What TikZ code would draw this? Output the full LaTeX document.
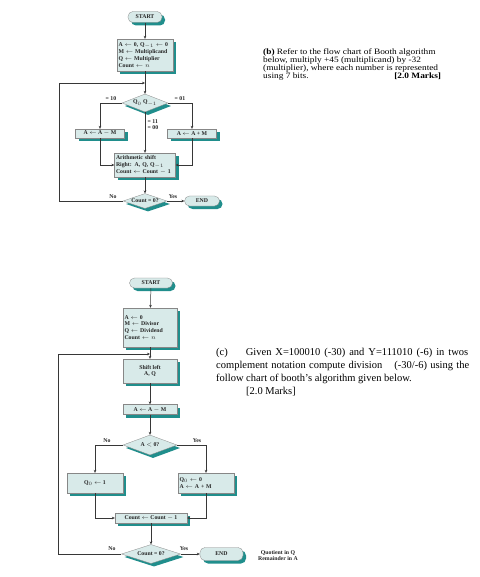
\documentclass[tikz,border=0pt]{standalone}
\usepackage{fontspec}
\setmainfont{Liberation Serif}
\usetikzlibrary{shapes.geometric,arrows.meta}
\definecolor{boxfill}{RGB}{216,234,233}
\definecolor{shadowc}{RGB}{32,142,140}
\definecolor{linec}{RGB}{55,55,55}
\begin{document}
\begin{tikzpicture}[x=1pt,y=-1pt,
  fc/.style={font=\fontsize{5.8}{6.8}\selectfont\bfseries, text=black!85},
  shd/.style={preaction={fill=shadowc, draw=none, transform canvas={xshift=3pt,yshift=-3pt}}},
  procbox/.style={fc, draw=linec!60, line width=0.3pt, fill=boxfill, inner sep=1.5pt, shd},
  term/.style={procbox, rounded corners=5pt},
  decision/.style={fc, diamond, draw=linec!60, line width=0.3pt, fill=boxfill, inner sep=0pt, aspect=2.5, shd},
  ln/.style={draw=linec, line width=0.5pt},
  arr/.style={ln, -{Stealth[length=3pt,width=2.6pt]}},
  lbl/.style={fc, inner sep=0pt}
]
\useasboundingbox (0,0) rectangle (479,577);
\fill[white] (0,0) rectangle (479,577);

% ---------------- Top flowchart ----------------
\node[term, minimum width=34pt, minimum height=11pt] (start1) at (145,17) {START};
\node[procbox, minimum width=56pt, minimum height=32pt, text width=53pt, align=left] (init1) at (145,55)
  {A $\leftarrow$ 0, Q$_{-1}$ $\leftarrow$ 0\\M $\leftarrow$ Multiplicand\\Q $\leftarrow$ Multiplier\\Count $\leftarrow$ $n$};
\node[decision, minimum width=46pt, minimum height=18pt] (d1) at (145,103) {Q$_0$ Q$_{-1}$};
\node[procbox, minimum width=49pt, minimum height=9pt] (lb1) at (100,133.5) {A $\leftarrow$ A $-$ M};
\node[procbox, minimum width=49pt, minimum height=9pt] (rb1) at (192,133.5) {A $\leftarrow$ A + M};
\node[procbox, minimum width=61pt, minimum height=24pt, text width=58pt, align=left] (arith) at (145,165)
  {Arithmetic shift\\Right: A, Q, Q$_{-1}$\\Count $\leftarrow$ Count $-$ 1};
\node[decision, minimum width=44pt, minimum height=14pt] (d2) at (145,201) {Count = 0?};
\node[term, minimum width=35pt, minimum height=10pt] (end1) at (202,201) {END};
\coordinate (j1) at (145,83);
\coordinate (l1) at (59,83);

\draw[arr] (start1) -- (init1);
\draw[arr] (init1) -- (d1);
\draw[arr] (d2.west) -| (l1) -- (j1);
\draw[arr] (d1.west) -| (lb1.north);
\draw[arr] (d1.east) -| (rb1.north);
\draw[arr] (d1.south) -- (arith.north);
\draw[arr] (lb1.south) |- (arith.west);
\draw[arr] (rb1.south) |- (arith.east);
\draw[arr] (arith.south) -- (d2.north);
\draw[arr] (d2.east) -- (end1.west);

\node[lbl] (t10) at (111,98.5) {= 10};
\node[lbl] (t01) at (180,98.5) {= 01};
\node[lbl, anchor=west] (t11) at (147.5,122) {= 11};
\node[lbl, anchor=west] (t00) at (147.5,128) {= 00};
\node[lbl] (tno1) at (113,196.5) {No};
\node[lbl] (tyes1) at (173,196.5) {Yes};

% ---------------- Top text (b) ----------------
\node[anchor=north west, inner sep=0pt] (tb) at (263,49)
  {\scalebox{1.14}[1]{\parbox[t]{158pt}{\fontsize{8.2}{7.8}\selectfont\raggedright
   \textbf{(b)} Refer to the flow chart of Booth algorithm\\
   below, multiply +45 (multiplicand) by -32\\
   (multiplier), where each number is represented\\
   using 7 bits.\hfill\textbf{[2.0 Marks]}\hspace*{2pt}}}};

% ---------------- Bottom flowchart ----------------
\node[term, minimum width=43pt, minimum height=10pt] (start2) at (151,283) {START};
\node[procbox, minimum width=54pt, minimum height=39pt, text width=51pt, align=left] (init2) at (150,327.5)
  {A $\leftarrow$ 0\\M $\leftarrow$ Divisor\\Q $\leftarrow$ Dividend\\Count $\leftarrow$ $n$};
\node[procbox, minimum width=54pt, minimum height=24pt, align=center] (shift) at (150,371)
  {Shift left\\A, Q};
\node[procbox, minimum width=54pt, minimum height=10pt] (sub) at (150,409.5) {A $\leftarrow$ A $-$ M};
\node[decision, minimum width=54pt, minimum height=20pt] (d3) at (150,445) {A $<$ 0?};
\node[procbox, minimum width=56pt, minimum height=20pt] (q1) at (95,483) {Q$_0$ $\leftarrow$ 1};
\node[procbox, minimum width=56pt, minimum height=20pt, text width=53pt, align=left] (q0) at (206,483)
  {Q$_0$ $\leftarrow$ 0\\A $\leftarrow$ A + M};
\node[procbox, minimum width=72pt, minimum height=10pt] (cnt) at (151,518) {Count $\leftarrow$ Count $-$ 1};
\node[decision, minimum width=59pt, minimum height=19pt] (d4) at (151,554) {Count = 0?};
\node[term, minimum width=43pt, minimum height=13pt] (end2) at (221.5,554) {END};
\node[fc, align=center, inner sep=0pt] (res) at (278,555.5) {Quotient in Q\\Remainder in A};
\coordinate (j2) at (150,354);
\coordinate (l2) at (58,354);

\draw[arr] (start2) -- (init2);
\draw[arr] (init2) -- (shift);
\draw[arr] (d4.west) -| (l2) -- (j2);
\draw[arr] (shift) -- (sub);
\draw[arr] (sub) -- (d3);
\draw[arr] (d3.west) -| (q1.north);
\draw[arr] (d3.east) -| (q0.north);
\draw[arr] (q1.south) |- (cnt.west);
\draw[arr] (q0.south) |- (cnt.east);
\draw[arr] (cnt.south) -- (d4.north);
\draw[arr] (d4.east) -- (end2.west);

\node[lbl] (tno2) at (107,440.5) {No};
\node[lbl] (tyes2) at (197,440.5) {Yes};
\node[lbl] (tno3) at (112,548.5) {No};
\node[lbl] (tyes3) at (184,548.5) {Yes};

% ---------------- Bottom text (c) ----------------
\node[anchor=north west, inner sep=0pt, align=left,
      font=\fontsize{10.5}{13}\selectfont] (tc) at (216,348)
  {\makebox[252pt][s]{(c)\hspace{18pt}Given X=100010 (-30) and Y=111010 (-6) in twos}\\
   \makebox[253pt][s]{complement notation compute division\hspace{12pt}(-30/-6) using the}\\
   follow chart of booth's algorithm given below.\\
   \hspace*{30pt}[2.0 Marks]};
\end{tikzpicture}
\end{document}
